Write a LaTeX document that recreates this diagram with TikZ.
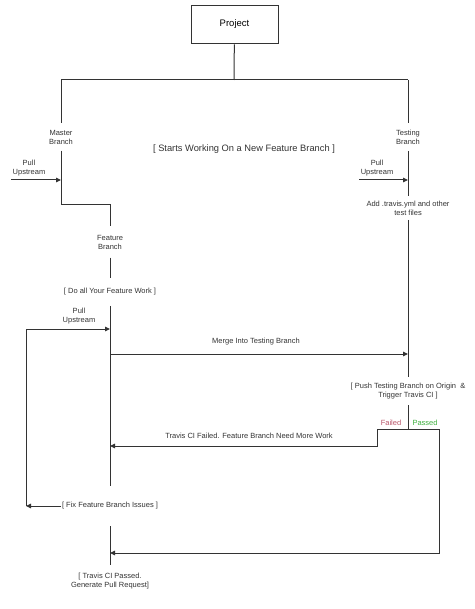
\documentclass[tikz,border=0pt]{standalone}
\usepackage{fontspec}
\setmainfont{Liberation Sans}
\usetikzlibrary{arrows.meta}
\definecolor{failred}{HTML}{B85468}
\definecolor{passgreen}{HTML}{3FAF3F}
\definecolor{linegray}{HTML}{333333}

\begin{document}
\begin{tikzpicture}[x=1pt,y=-1pt,
    line width=1pt, draw=linegray,
    lbl/.style={align=center, font=\fontsize{7.5}{9}\selectfont, text=linegray, inner xsep=1pt, inner ysep=6pt},
    arr/.style={-{Triangle[length=5pt,width=4.5pt]}}]
    \useasboundingbox (0,0) rectangle (474,609);

    % Define coordinates for the branch corners
    \coordinate (top) at (234,80);
    \coordinate (mL) at (61,80);
    \coordinate (tR) at (408,80);
    \coordinate (mcorner) at (61,205);
    \coordinate (fcorner) at (110,205);
    \coordinate (mpullin) at (11,180);
    \coordinate (mpull) at (61,180);
    \coordinate (tpullin) at (359,180);
    \coordinate (tpull) at (408,180);
    \coordinate (fmerge) at (110,354);
    \coordinate (tmerge) at (408,354);
    \coordinate (split) at (408,429);
    \coordinate (fl) at (377,429);
    \coordinate (fl2) at (377,446);
    \coordinate (ffail) at (110,446);
    \coordinate (pr) at (439,429);
    \coordinate (pr2) at (439,553);
    \coordinate (fpass) at (110,553);
    \coordinate (lp) at (26,506);
    \coordinate (lq) at (26,329);
    \coordinate (fpull) at (110,329);

    % Draw nodes
    \node[draw=linegray, minimum width=87pt, minimum height=38pt, font=\fontsize{9.5}{11}\selectfont] (project) at (234.5,25) {\raisebox{3pt}{Project}};
    \node[lbl] (master) at (61,137) {Master\\Branch};
    \node[lbl] (testing) at (408,137) {Testing\\Branch};
    \node[lbl, font=\fontsize{9.3}{11}\selectfont] (starts) at (244,149) {[ Starts Working On a New Feature Branch ]};
    \node[lbl, inner ysep=4pt] (addtravis) at (408,208) {Add .travis.yml and other\\test files};
    \node[lbl, inner ysep=8pt] (feature) at (110,242) {Feature\\Branch};
    \node[lbl, inner ysep=10pt] (work) at (110,292) {[ Do all Your Feature Work ]};
    \node[lbl] (push) at (408,391) {[ Push Testing Branch on Origin \ \&\\Trigger Travis CI ]};
    \node[lbl, inner ysep=16pt] (fix) at (110,506) {[ Fix Feature Branch Issues ]};
    \node[lbl, inner ysep=8pt] (prdone) at (110,581) {[ Travis CI Passed.\\Generate Pull Request]};
    \node[lbl] (mpulllbl) at (29,168) {Pull\\Upstream};
    \node[lbl] (tpulllbl) at (377,168) {Pull\\Upstream};
    \node[lbl] (fpulllbl) at (79,316) {Pull\\Upstream};
    \node[lbl] (mergelbl) at (256,342) {Merge Into Testing Branch};
    \node[lbl, text=failred] (failed) at (391,423) {Failed};
    \node[lbl, text=passgreen] (passed) at (425,423) {Passed};
    \node[lbl] (faillbl) at (249,436) {Travis CI Failed. Feature Branch Need More Work};

    % Draw branch lines
    \draw (project) -- (top);
    \draw (mL) -- (tR);
    \draw (mL) -- (master);
    \draw (tR) -- (testing);
    \draw (master) -- (mcorner) -- (fcorner) -- (feature);
    \draw (testing) -- (addtravis);
    \draw (addtravis) -- (push);
    \draw (push) -- (split);
    \draw (feature) -- (work);
    \draw (work) -- (fix);
    \draw (fix) -- (prdone);

    % Draw pulls and merges
    \draw[arr] (mpullin) -- (mpull);
    \draw[arr] (tpullin) -- (tpull);
    \draw[arr] (fmerge) -- (tmerge);
    \draw (fl) -- (pr);
    \draw[arr] (fl) -- (fl2) -- (ffail);
    \draw[arr] (pr) -- (pr2) -- (fpass);
    \draw[arr] (fix) -- (lp);
    \draw[arr] (lp) -- (lq) -- (fpull);

\end{tikzpicture}
\end{document}
